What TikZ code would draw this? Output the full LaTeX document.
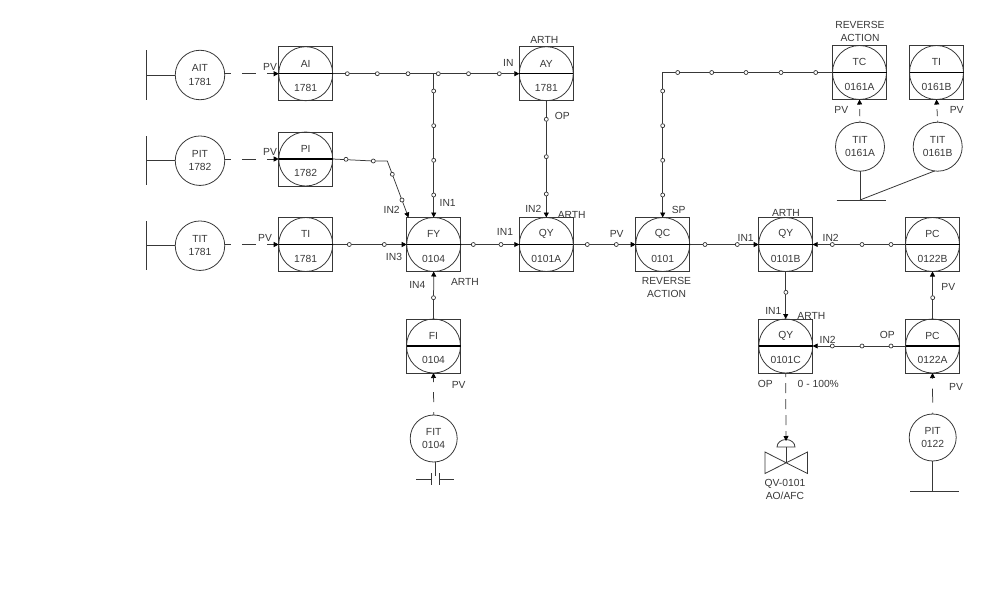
\documentclass[tikz,border=0pt]{standalone}
\usepackage{fontspec}
\setmainfont{Liberation Sans}
\usetikzlibrary{arrows.meta}
\definecolor{ink}{gray}{0.22}
\newcounter{lblc}
\newcounter{tapc}
\tikzset{
  x=1pt,y=-1pt,
  every node/.style={text=ink},
  wire/.style={draw=ink,line width=0.75pt},
  flow/.style={wire,-{Triangle[length=5pt,width=5pt,fill=black,color=black]}},
  sigdash/.style={flow,dash pattern=on 14pt off 11pt,dash phase=8pt},
  sigshort/.style={flow,dash pattern=on 10pt off 10pt,dash phase=7pt},
  sigpit/.style={flow,dash pattern=on 14pt off 10pt,dash phase=12.5pt},
  sigtiny/.style={flow,dash pattern=on 7pt off 4.5pt,dash phase=5.5pt},
  sigop/.style={flow,dash pattern=on 10pt off 6pt,dash phase=6pt},
  boxs/.style={draw=ink,line width=0.75pt,minimum size=54pt,inner sep=0pt,outer sep=0pt},
  ring/.style={circle,draw=ink,line width=0.8pt,minimum size=54pt,inner sep=0pt,outer sep=0pt},
  field/.style={circle,draw=ink,line width=0.8pt,minimum size=#1,inner sep=0pt,outer sep=0pt,align=center,font=\fontsize{10.3}{13.3}\selectfont},
  bar/.style={draw=black,line width=1.35pt},
  tagtext/.style={inner sep=0pt,font=\fontsize{10.3}{12}\selectfont},
  lab/.style={inner sep=0pt,align=center,font=\fontsize{10.3}{13.3}\selectfont},
  tap/.style={circle,draw=ink,fill=white,line width=0.7pt,minimum size=4pt,inner sep=0pt},
  pipe/.style={draw=ink,line width=0.8pt},
}
\newcommand{\inst}[5]{% name, x, y, top, bottom
  \node[boxs] (#1) at (#2,#3) {};
  \node[ring] (#1c) at (#2,#3) {};
  \draw[bar] (#1.west) -- (#1.east);
  \node[tagtext] (#1t) at (#2,#3-10.2) {#4};
  \node[tagtext] (#1b) at (#2,#3+14) {#5};
}
\newcommand{\lbl}[3]{\stepcounter{lblc}\node[lab] (L\arabic{lblc}) at (#1,#2+0.5) {#3};}
\newcommand{\taps}[1]{\foreach \px/\py in {#1}{\stepcounter{tapc}\node[tap] (T\arabic{tapc}) at (\px,\py) {};}}
\begin{document}
\begin{tikzpicture}
\useasboundingbox (0,0) rectangle (1007,597);
% controller blocks
\inst{AI}{305.7}{73.7}{AI}{1781}
\inst{PI}{305.7}{159}{PI}{1782}
\inst{TIa}{305.7}{244.5}{TI}{1781}
\inst{AY}{546.3}{73.7}{AY}{1781}
\inst{FY}{433.7}{244.5}{FY}{0104}
\inst{QYA}{546.3}{244.5}{QY}{0101A}
\inst{QC}{662.7}{244.5}{QC}{0101}
\inst{QYB}{785.7}{244.5}{QY}{0101B}
\inst{QYC}{785.7}{346}{QY}{0101C}
\inst{PCB}{932.5}{244.5}{PC}{0122B}
\inst{PCA}{932.5}{346}{PC}{0122A}
\inst{FI}{433.5}{346}{FI}{0104}
\inst{TC}{859.5}{72.5}{TC}{0161A}
\inst{TIb}{936.5}{72.5}{TI}{0161B}
% field devices
\node[field=49.5pt] (AIT) at (200,75) {AIT\\1781};
\node[field=49.5pt] (PIT) at (200,160.7) {PIT\\1782};
\node[field=49.5pt] (TIT) at (200,245.7) {TIT\\1781};
\node[field=47pt] (FIT) at (433.7,438.5) {FIT\\0104};
\node[field=47pt] (PITb) at (932.7,437.5) {PIT\\0122};
\node[field=49pt] (TITa) at (860,146.7) {TIT\\0161A};
\node[field=49pt] (TITb) at (937.7,146.7) {TIT\\0161B};
% process connections, left
\coordinate (ra) at (146.7,75);
\coordinate (rb) at (146.7,160.7);
\coordinate (rc) at (146.7,245.7);
\draw[pipe] (146.7,50) -- (146.7,100);
\draw[pipe] (146.7,136) -- (146.7,185);
\draw[pipe] (146.7,221) -- (146.7,270);
\draw[pipe] (ra) -- (AIT.west);
\draw[pipe] (rb) -- (PIT.west);
\draw[pipe] (rc) -- (TIT.west);
% field signals
\draw[sigdash] (AIT.east |- AI.west) -- (AI.west);
\draw[sigdash] (PIT.east |- PI.west) -- (PI.west);
\draw[sigdash] (TIT.east |- TIa.west) -- (TIa.west);
\draw[sigshort] (FIT.north) -- (FI.south);
\draw[sigpit] (PITb.north) -- (PCA.south);
\draw[sigtiny] (TITa.north) -- (TC.south);
\draw[sigtiny] (TITb.north) -- (TIb.south);
% software links
\coordinate (jn) at (433.7,73.7);
\coordinate (pbend) at (387.3,161);
\coordinate (pend) at (408.5,217.5);
\coordinate (tcbend) at (662.7,72.5);
\draw[flow] (AI.east) -- (AY.west);
\draw[flow] (jn) -- (FY.north);
\draw[flow] (PI.east) -- (373,161) -- (pbend) -- (pend);
\draw[flow] (TIa.east) -- (FY.west);
\draw[flow] (FI.north) -- (FY.south);
\draw[flow] (FY.east) -- (QYA.west);
\draw[flow] (AY.south) -- (QYA.north);
\draw[flow] (QYA.east) -- (QC.west);
\draw[flow] (TC.west) -- (tcbend) -- (QC.north);
\draw[flow] (QC.east) -- (QYB.west);
\draw[flow] (PCB.west) -- (QYB.east);
\draw[flow] (QYB.south) -- (QYC.north);
\draw[flow] (PCA.west) -- (QYC.east);
\draw[flow] (PCA.north) -- (PCB.south);
\taps{347.3/73.7,377.3/73.7,408/73.7,438.3/73.7,468.5/73.7,499.3/73.7,
      433.7/91,433.7/125.7,433.7/160.3,433.7/195,
      346/159.3,373.3/161,392.3/174.3,402/200,
      349.3/244.5,384.3/244.5,473.3/244.5,501/244.5,587.3/244.5,616.3/244.5,705/244.5,737.3/244.5,
      546.3/119.3,546.3/156.7,546.3/194,
      677.7/72.5,711.7/72.5,746/72.5,781/72.5,815.7/72.5,
      662.7/91,662.7/125.7,662.7/160.3,662.7/195,
      433.5/297.7,785.9/292.3,932.7/297.7,
      832.3/244.5,862/244.5,891/244.5,832.3/346,862/346,891/346}
% process connections, right
\coordinate (bar1) at (860,200);
\draw[pipe] (836.7,200) -- (886,200);
\draw[pipe] (TITa.south) -- (bar1);
\draw[pipe] (TITb.south) ++(-3,-0.3) -- (bar1);
\coordinate (bar2) at (932.7,491.7);
\draw[pipe] (PITb.south) -- (bar2);
\draw[pipe] (910,491.7) -- (959.3,491.7);
% orifice
\coordinate (ofa) at (435.7,475.5);
\draw[pipe] (435.7,461.5) -- (ofa);
\draw[pipe] (431.7,473) -- (431.7,485);
\draw[pipe] (439.3,473) -- (439.3,485);
\draw[pipe] (416,479.3) -- (431.7,479.3);
\draw[pipe] (439.3,479.3) -- (454,479.3);
% valve
\coordinate (acttop) at (786,441);
\coordinate (valve) at (786,462.7);
\draw[pipe] (777,447) arc[start angle=180,end angle=0,x radius=9pt,y radius=7.5pt] -- cycle;
\draw[sigop] (QYC.south) -- (acttop);
\draw[pipe] (786,447) -- (valve);
\draw[pipe] (valve) -- (765,452) -- (765,473.5) -- (807.5,452) -- (807.5,473.5) -- cycle;
% labels
\lbl{270}{66}{PV}
\lbl{270}{151}{PV}
\lbl{265}{237.7}{PV}
\lbl{391.7}{209.3}{IN2}
\lbl{447.7}{202.3}{IN1}
\lbl{394}{256.7}{IN3}
\lbl{417.3}{284.3}{IN4}
\lbl{465}{281}{ARTH}
\lbl{458.7}{384}{PV}
\lbl{544.3}{39}{ARTH}
\lbl{508.3}{62.3}{IN}
\lbl{562.3}{115}{OP}
\lbl{505}{231.3}{IN1}
\lbl{533.3}{208.3}{IN2}
\lbl{571.7}{214}{ARTH}
\lbl{616.7}{233.3}{PV}
\lbl{678.7}{209}{SP}
\lbl{666.5}{286.7}{REVERSE\\ACTION}
\lbl{786}{212}{ARTH}
\lbl{745.7}{237.7}{IN1}
\lbl{830.7}{237.7}{IN2}
\lbl{773.3}{310}{IN1}
\lbl{811.3}{315}{ARTH}
\lbl{827.7}{339.3}{IN2}
\lbl{887.3}{334.3}{OP}
\lbl{948.3}{286}{PV}
\lbl{956}{386}{PV}
\lbl{765.3}{383.3}{OP}
\lbl{818.3}{383.3}{0 - 100\%}
\lbl{785}{488.7}{QV-0101\\AO/AFC}
\lbl{860}{30.7}{REVERSE\\ACTION}
\lbl{841.3}{109.3}{PV}
\lbl{956.7}{109.3}{PV}
\end{tikzpicture}
\end{document}
